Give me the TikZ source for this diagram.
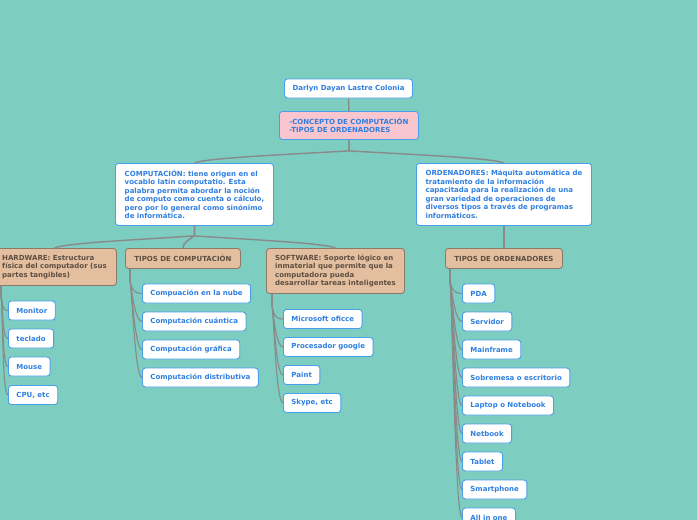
\documentclass[tikz,border=0pt]{standalone}
\usepackage{fontspec}
\setmainfont{DejaVu Sans}
\definecolor{bgteal}{HTML}{7DCDC1}
\definecolor{nodeblue}{HTML}{4A9FEA}
\definecolor{txtblue}{HTML}{2F7FE0}
\definecolor{brownfill}{HTML}{E3BFA0}
\definecolor{brownedge}{HTML}{8C7A68}
\definecolor{browntext}{HTML}{5E4E40}
\definecolor{pinkfill}{HTML}{F9C6D0}
\definecolor{conngray}{HTML}{8A8A8A}
\tikzset{
  base/.style={rounded corners=3pt, line width=0.9pt, inner xsep=8pt, inner ysep=3pt,
    font=\bfseries\fontsize{7}{8.5}\selectfont, align=left},
  bluebox/.style={base, draw=nodeblue, fill=white, text=txtblue},
  pinkbox/.style={base, draw=nodeblue, fill=pinkfill, text=txtblue},
  brownbox/.style={base, draw=brownedge, fill=brownfill, text=browntext},
  leaf/.style={bluebox, minimum height=19pt, anchor=west},
  conn/.style={draw=conngray, line width=1.4pt},
  branch/.style={draw=conngray, line width=1.1pt},
}
\begin{document}
\begin{tikzpicture}[x=1pt,y=-1pt]
\fill[bgteal] (0,0) rectangle (697,520);
\useasboundingbox (0,0) rectangle (697,520);

% main nodes
\node[bluebox, minimum height=19pt, minimum width=127pt] (root) at (348.5,88.5) {Darlyn Dayan Lastre Colonia};
\node[pinkbox, anchor=north west, minimum height=28pt, minimum width=139pt] (pink) at (279,111)
  {-CONCEPTO DE COMPUTACIÓN\\-TIPOS DE ORDENADORES};
\node[bluebox, anchor=north west, minimum height=62pt, minimum width=158pt] (comp) at (115,163)
  {COMPUTACIÓN: tiene origen en el\\vocablo latín computatio. Esta\\palabra permita abordar la noción\\de computo como cuenta o cálculo,\\pero por lo general como sinónimo\\de informática.};
\node[bluebox, anchor=north west, minimum height=62pt, minimum width=175pt] (ord) at (416,163)
  {ORDENADORES: Máquita automática de\\tratamiento de la información\\capacitada para la realización de una\\gran variedad de operaciones de\\diversos tipos a través de programas\\informáticos.};

\node[brownbox, anchor=north west, minimum height=37pt, minimum width=124pt] (hw) at (-8,248)
  {HARDWARE: Estructura\\física del computador (sus\\partes tangibles)};
\node[brownbox, anchor=north west, minimum height=20pt, minimum width=115pt] (tc) at (125,248)
  {TIPOS DE COMPUTACIÓN};
\node[brownbox, anchor=north west, minimum height=45pt, minimum width=138pt] (sw) at (266,248)
  {SOFTWARE: Soporte lógico en\\inmaterial que permite que la\\computadora pueda\\desarrollar tareas inteligentes};
\node[brownbox, anchor=north west, minimum height=20pt, minimum width=117pt] (to) at (445,248)
  {TIPOS DE ORDENADORES};

% hardware leaves
\node[leaf] (h1) at (8,310.5) {Monitor};
\node[leaf] (h2) at (8,338.5) {teclado};
\node[leaf] (h3) at (8,366.5) {Mouse};
\node[leaf] (h4) at (8,395) {CPU, etc};

% tipos de computacion leaves
\node[leaf] (c1) at (142,293.5) {Compuación en la nube};
\node[leaf] (c2) at (142,321.5) {Computación cuántica};
\node[leaf] (c3) at (142,349.5) {Computación gráfica};
\node[leaf] (c4) at (142,377.5) {Computación distributiva};

% software leaves
\node[leaf] (s1) at (283,319) {Microsoft oficce};
\node[leaf] (s2) at (283,347) {Procesador google};
\node[leaf] (s3) at (283,375) {Paint};
\node[leaf] (s4) at (283,403) {Skype, etc};

% tipos de ordenadores leaves
\node[leaf] (o1) at (462,293.5) {PDA};
\node[leaf] (o2) at (462,321.5) {Servidor};
\node[leaf] (o3) at (462,349.5) {Mainframe};
\node[leaf] (o4) at (462,377.5) {Sobremesa o escritorio};
\node[leaf] (o5) at (462,405.5) {Laptop o Notebook};
\node[leaf] (o6) at (462,433.5) {Netbook};
\node[leaf] (o7) at (462,461.5) {Tablet};
\node[leaf] (o8) at (462,489.5) {Smartphone};
\node[leaf] (o9) at (462,517.5) {All in one};

% connectors between main nodes
\draw[conn] (root.south) -- (pink.north);
\draw[conn] (pink.south) -- ++(0,11) .. controls +(-70,4) and +(12,-5) .. (comp.north);
\draw[conn] (pink.south) -- ++(0,11) .. controls +(70,4) and +(-12,-5) .. (ord.north);
\draw[conn] (comp.south) -- ++(0,10) .. controls +(-60,4) and +(12,-5) .. (hw.north);
\draw[conn] (comp.south) -- ++(0,10) .. controls +(-4,3) and +(0,-6) .. (tc.north);
\draw[conn] (comp.south) -- ++(0,10) .. controls +(60,4) and +(-12,-5) .. (sw.north);
\draw[conn] (ord.south) -- (to.north);

% leaf connectors
\foreach \c in {h1,h2,h3,h4}
  \draw[branch] ([xshift=9pt]hw.south west) -- ++(0,10) .. controls +(2,10) and +(-6,0) .. (\c.west);
\foreach \c in {c1,c2,c3,c4}
  \draw[branch] ([xshift=5pt]tc.south west) -- ++(0,12) .. controls +(2,10) and +(-7,0) .. (\c.west);
\foreach \c in {s1,s2,s3,s4}
  \draw[branch] ([xshift=6pt]sw.south west) -- ++(0,12) .. controls +(2,10) and +(-7,0) .. (\c.west);
\foreach \c in {o1,o2,o3,o4,o5,o6,o7,o8,o9}
  \draw[branch] ([xshift=5pt]to.south west) -- ++(0,12) .. controls +(2,10) and +(-7,0) .. (\c.west);
\end{tikzpicture}
\end{document}
